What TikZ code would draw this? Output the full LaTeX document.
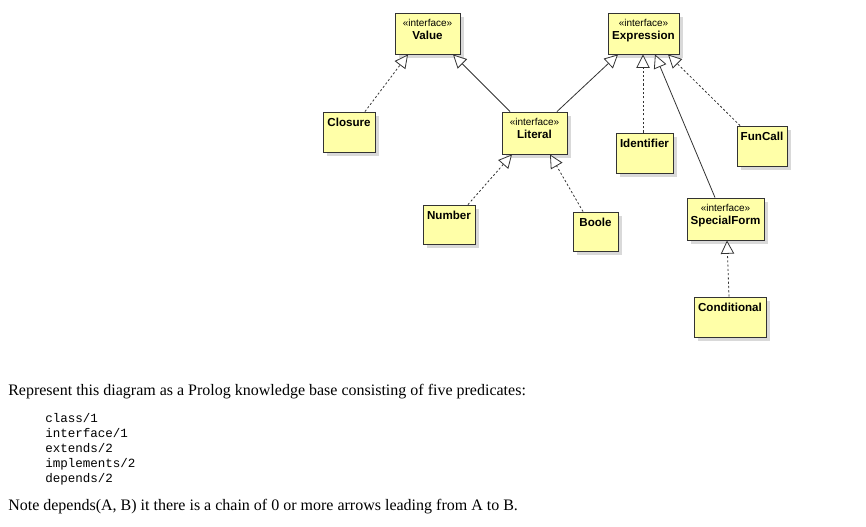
\documentclass[tikz,border=0pt]{standalone}
\usepackage{fontspec}
\setmainfont{Liberation Serif}
\setsansfont{Liberation Sans}
\setmonofont{Liberation Mono}
\usetikzlibrary{arrows.meta,shadows,calc}
\definecolor{boxy}{HTML}{FFFFA8}
\newcommand{\stereo}{{\sffamily\mdseries\fontsize{7.5}{8.5}\selectfont «interface»}}
\begin{document}
\begin{tikzpicture}[x=0.75pt,y=-0.75pt,
  box/.style={draw=black!80,fill=boxy,line width=0.7pt,inner sep=0pt,
    drop shadow={shadow xshift=3pt,shadow yshift=-3pt,fill=black!15,opacity=1}},
  lab/.style={anchor=north,align=center,inner sep=0pt,font=\sffamily\bfseries\fontsize{8.7}{10}\selectfont},
  gen/.style={-{Triangle[open,fill=white,width=10pt,length=10pt]},black!80,line width=0.6pt},
  real/.style={gen,dash pattern=on 1.6pt off 1.6pt}]
\useasboundingbox (0,0) rectangle (866,526);
\newcommand{\umlbox}[6]{%
  \node[box,minimum width={(#4-#2)*0.75pt},minimum height={(#5-#3)*0.75pt}] (#1) at ({(#2+#4)/2},{(#3+#5)/2}) {};
  \node[lab] (#1t) at ($(#1.north)+(0,6)$) {#6};}
\umlbox{val}{395}{13}{460}{54}{\stereo\\Value}
\umlbox{exp}{608}{13}{679}{54}{\stereo\\Expression}
\umlbox{clo}{323}{112}{375}{152}{Closure}
\umlbox{lit}{502}{112}{567}{154}{\stereo\\Literal}
\umlbox{ide}{616}{133}{673}{173}{Identifier}
\umlbox{fun}{737}{126}{787}{166}{FunCall}
\umlbox{num}{423}{205}{475}{244}{Number}
\umlbox{boo}{573}{212}{618}{251}{Boole}
\umlbox{spf}{687}{198}{764}{240}{\stereo\\SpecialForm}
\umlbox{con}{694}{297}{766}{337}{Conditional}
\draw[real] ($(clo.north)+(16,0)$) -- ($(val.south)+(-19.5,0)$);
\draw[gen] ($(lit.north)+(-24.5,0)$) -- ($(val.south)+(25.5,0)$);
\draw[gen] ($(lit.north)+(22.5,0)$) -- ($(exp.south)+(-25.5,0)$);
\draw[real] ($(ide.north)+(-1.5,0)$) -- ($(exp.south)+(-0.5,0)$);
\draw[gen] ($(spf.north)+(-10.5,0)$) -- ($(exp.south)+(11.5,0)$);
\draw[real] ($(fun.north)+(-22,0)$) -- ($(exp.south)+(24.5,0)$);
\draw[real] ($(num.north)+(19,0)$) -- ($(lit.south)+(-22.5,0)$);
\draw[real] ($(boo.north)+(-12.5,0)$) -- ($(lit.south)+(15.5,0)$);
\draw[real] ($(con.north)+(-1,0)$) -- ($(spf.south)+(1.5,0)$);
\node[anchor=base west,inner sep=0pt,font=\fontsize{12}{14}\selectfont] (p1) at (8,395) {Represent this diagram as a Prolog knowledge base consisting of five predicates:};
\node[anchor=north west,inner sep=0pt,align=left,font=\ttfamily\fontsize{9.4}{11.2}\selectfont] (code) at (45,413) {class/1\\interface/1\\extends/2\\implements/2\\depends/2};
\node[anchor=base west,inner sep=0pt,font=\fontsize{12}{14}\selectfont] (p2) at (8,510) {Note depends(A, B) it there is a chain of 0 or more arrows leading from A to B.};
\end{tikzpicture}
\end{document}
